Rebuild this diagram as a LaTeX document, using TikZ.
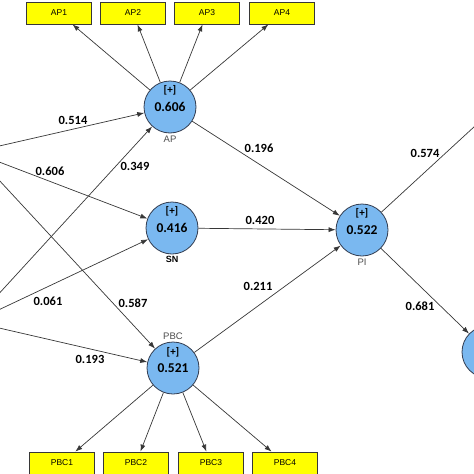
\documentclass[tikz,border=0pt]{standalone}
\usepackage{fontspec}
\setmainfont{Carlito}
\newfontfamily\boxfont{Liberation Sans}
\usetikzlibrary{arrows.meta,positioning}

\definecolor{latblue}{RGB}{122,184,240}
\definecolor{latline}{RGB}{50,60,80}
\definecolor{indyellow}{RGB}{255,255,0}
\definecolor{linkgray}{RGB}{55,55,55}

\tikzset{
  lat/.style={circle,draw=latline,line width=0.8pt,fill=latblue,
    minimum size=52pt,inner sep=0pt,font=\fontsize{13.5}{14}\selectfont\bfseries},
  indic/.style={rectangle,draw=linkgray,line width=0.8pt,fill=indyellow,
    minimum width=65pt,minimum height=22pt,inner sep=0pt,
    font=\boxfont\fontsize{8.5}{9}\selectfont},
  plus/.style={inner sep=0pt,font=\fontsize{11}{11}\selectfont\bfseries},
  latname/.style={inner sep=1pt,text=black!70,font=\boxfont\fontsize{9.5}{10}\selectfont},
  coef/.style={inner sep=0pt,font=\fontsize{12.5}{13}\selectfont\bfseries},
  link/.style={-{Latex[length=7pt,width=5pt]},draw=linkgray,line width=0.7pt}
}

\begin{document}
\begin{tikzpicture}[x=1pt,y=-1pt]

\useasboundingbox (0,0) rectangle (474,474);
\clip (0,0) rectangle (474,474);

% Latent variables
\node[lat] (AP) at (170,107) {0.606};
\node[lat] (SN) at (172,228) {0.416};
\node[lat] (PBC) at (173,368) {0.521};
\node[lat] (PI) at (362,230) {0.522};
\node[lat] (OUT) at (488,352) {};

\coordinate (X1) at (-27,152);
\coordinate (X2) at (-27,322);
\coordinate (Y1) at (500,103);

\node[plus] (APp) at ([yshift=17pt]AP.center) {[+]};
\node[plus] (SNp) at ([yshift=17pt]SN.center) {[+]};
\node[plus] (PBCp) at ([yshift=16pt]PBC.center) {[+]};
\node[plus] (PIp) at ([yshift=17pt]PI.center) {[+]};

\node[latname,below=1pt of AP] (APn) {AP};
\node[latname,below=1pt of SN,text=black,font=\boxfont\bfseries\fontsize{9}{10}\selectfont] (SNn) {SN};
\node[latname,above=1pt of PBC] (PBCn) {PBC};
\node[latname,below=1pt of PI] (PIn) {PI};

% Indicators
\node[indic] (AP1) at (59,13) {AP1};
\node[indic] (AP2) at (133,13) {AP2};
\node[indic] (AP3) at (207,13) {AP3};
\node[indic] (AP4) at (282,13) {AP4};

\node[indic] (PBC1) at (62,463) {PBC1};
\node[indic] (PBC2) at (136,463) {PBC2};
\node[indic] (PBC3) at (211,463) {PBC3};
\node[indic] (PBC4) at (285,463) {PBC4};

\foreach \i in {1,...,4}
  \draw[link] (AP) -- (AP\i);

\foreach \i in {1,...,4}
  \draw[link] (PBC) -- (PBC\i);

% Paths
\draw[link] (X1) -- (AP);
\draw[link] (X1) -- (SN);
\draw[link] (X1) -- (PBC);
\draw[link] (X2) -- (AP);
\draw[link] (X2) -- (SN);
\draw[link] (X2) -- (PBC);
\draw[link] (AP) -- (PI);
\draw[link] (SN) -- (PI);
\draw[link] (PBC) -- (PI);
\draw[link] (PI) -- (Y1);
\draw[link] (PI) -- (OUT);

% Coefficients
\node[coef] (c514) at (73,120) {0.514};
\node[coef] (c606) at (50,171) {0.606};
\node[coef] (c349) at (135,166) {0.349};
\node[coef] (c587) at (133,303) {0.587};
\node[coef] (c061) at (48,301) {0.061};
\node[coef] (c193) at (90,359) {0.193};
\node[coef] (c196) at (259,148) {0.196};
\node[coef] (c420) at (260,220) {0.420};
\node[coef] (c211) at (258,286) {0.211};
\node[coef] (c574) at (425,153) {0.574};
\node[coef] (c681) at (420,306) {0.681};

\end{tikzpicture}
\end{document}
